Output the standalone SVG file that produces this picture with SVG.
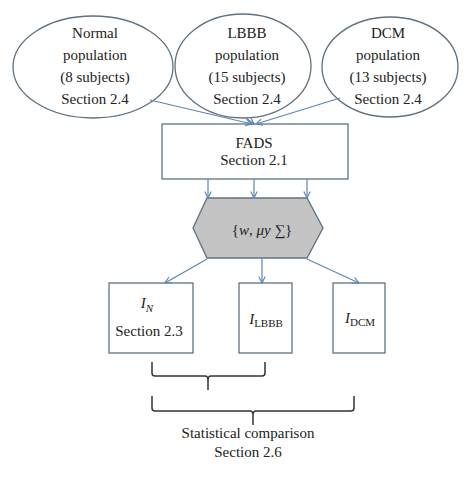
<svg xmlns="http://www.w3.org/2000/svg" width="474" height="479" viewBox="0 0 474 479">
<defs>
<marker id="arr" viewBox="0 0 10 10" refX="9" refY="5" markerWidth="8" markerHeight="8" orient="auto" markerUnits="userSpaceOnUse">
<path d="M1,1 L9,5 L1,9" fill="none" stroke="#5b86b5" stroke-width="1.4"/>
</marker>
<style>
text{font-family:"Liberation Serif","DejaVu Serif",serif;font-size:15px;fill:#222;text-anchor:middle}
.it{font-style:italic}
.sub{font-size:11px}
.node{fill:#fff;stroke:#5f7180;stroke-width:1.3}
.conn{stroke:#5b86b5;stroke-width:1.2;fill:none;marker-end:url(#arr)}
.brace{stroke:#333;stroke-width:1.5;fill:none}
</style>
</defs>
<rect width="474" height="479" fill="#fff"/>
<g id="normal">
<ellipse class="node" cx="93" cy="67" rx="80" ry="51"/>
<text x="95" y="38">Normal</text>
<text x="95" y="60">population</text>
<text x="95" y="82">(8 subjects)</text>
<text x="95" y="104">Section 2.4</text>
</g>
<g id="lbbb">
<ellipse class="node" cx="243" cy="66" rx="68" ry="52"/>
<text x="247" y="38">LBBB</text>
<text x="247" y="60">population</text>
<text x="247" y="82">(15 subjects)</text>
<text x="247" y="104">Section 2.4</text>
</g>
<g id="dcm">
<ellipse class="node" cx="390" cy="67" rx="68" ry="50"/>
<text x="388" y="38">DCM</text>
<text x="388" y="60">population</text>
<text x="388" y="82">(13 subjects)</text>
<text x="388" y="104">Section 2.4</text>
</g>
<g id="fads">
<rect class="node" x="162" y="124" width="186" height="55"/>
<text x="254" y="148">FADS</text>
<text x="254" y="165">Section 2.1</text>
</g>
<g id="params">
<polygon points="207,198 307,198 323,228 307,258 207,258 193,228" fill="#c4c4c4" stroke="#5f7180" stroke-width="1.3"/>
<text x="262" y="235">{<tspan class="it">w</tspan>, <tspan class="it">μy</tspan> ∑}</text>
</g>
<g id="in">
<rect class="node" x="109" y="283" width="84" height="70"/>
<text x="147" y="308"><tspan class="it">I</tspan><tspan class="it sub" dy="4">N</tspan></text>
<text x="149" y="336">Section 2.3</text>
</g>
<g id="ilbbb">
<rect class="node" x="239" y="283" width="53" height="70"/>
<text x="266" y="324"><tspan class="it">I</tspan><tspan class="sub" dy="3">LBBB</tspan></text>
</g>
<g id="idcm">
<rect class="node" x="333" y="283" width="52" height="70"/>
<text x="360" y="323"><tspan class="it">I</tspan><tspan class="sub" dy="3">DCM</tspan></text>
</g>
<g id="comparison">
<path class="brace" d="M152,362 L152,373 Q152,376 155,376 L205,376 Q208,376 208,380 L208,390 M208,380 Q208,376 211,376 L262,376 Q265,376 265,373 L265,362"/>
<path class="brace" d="M152,396 L152,408 Q152,411 155,411 L250,411 Q253,411 253,415 L253,425 M253,415 Q253,411 256,411 L351,411 Q354,411 354,408 L354,396"/>
<text x="248" y="438">Statistical comparison</text>
<text x="248" y="457">Section 2.6</text>
</g>
<g id="connectors">
<line class="conn" x1="150" y1="100" x2="252" y2="124"/>
<line class="conn" x1="246" y1="118" x2="254" y2="124"/>
<line class="conn" x1="340" y1="98" x2="256" y2="124"/>
<line class="conn" x1="208" y1="179" x2="208" y2="198"/>
<line class="conn" x1="254" y1="179" x2="254" y2="198"/>
<line class="conn" x1="307" y1="179" x2="307" y2="198"/>
<line class="conn" x1="207" y1="259" x2="165" y2="283"/>
<line class="conn" x1="262" y1="258" x2="262" y2="283"/>
<line class="conn" x1="307" y1="259" x2="359" y2="283"/>
</g>
</svg>
